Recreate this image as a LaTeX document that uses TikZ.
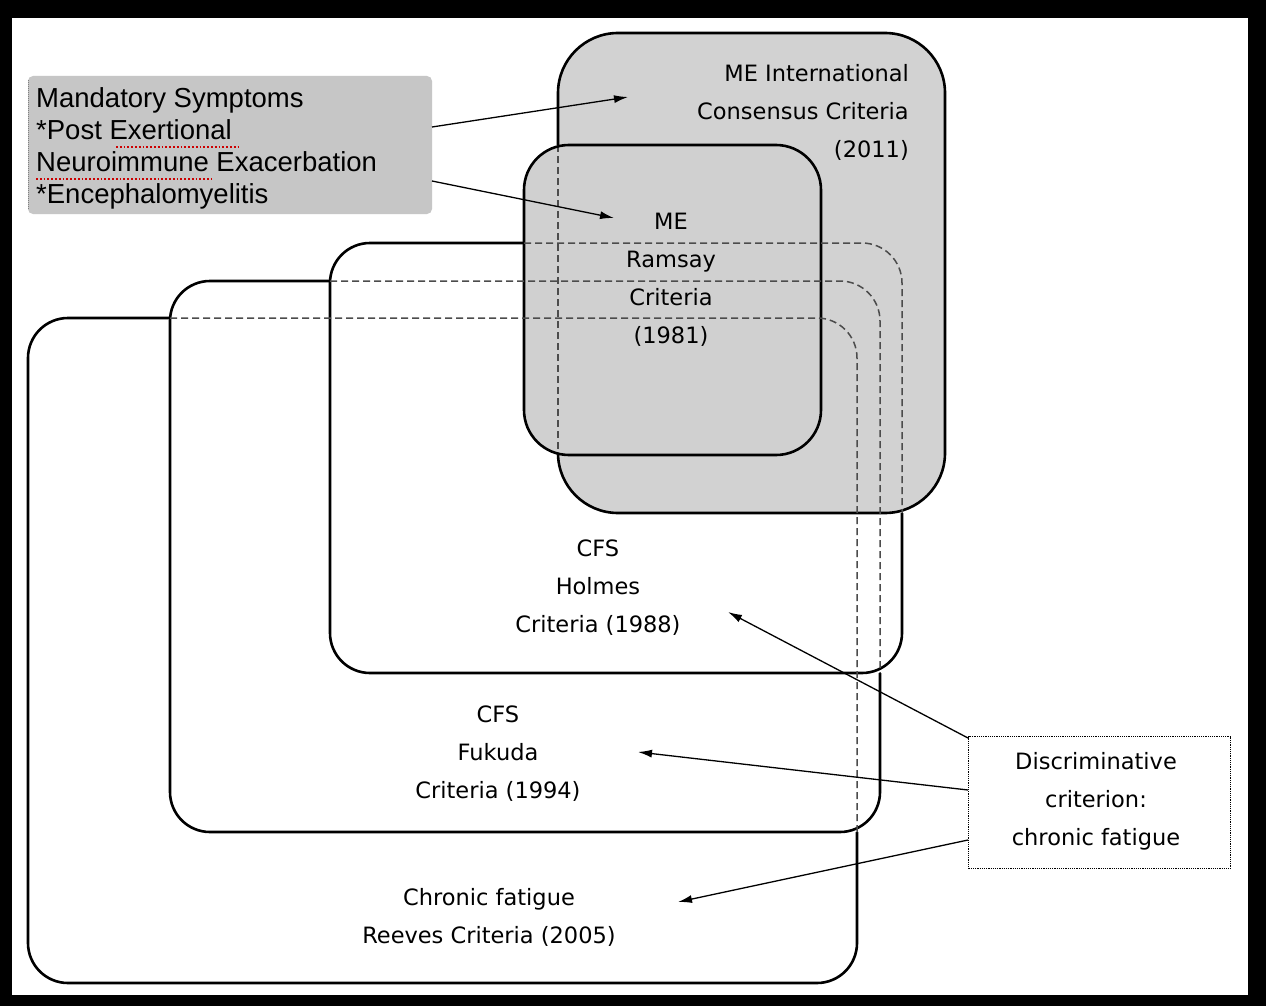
\documentclass[tikz,border=0pt]{standalone}
\usepackage{fontspec}
\setmainfont{DejaVu Sans}
\newfontfamily\arialf{Liberation Sans}
\usetikzlibrary{arrows.meta}
\begin{document}
\begin{tikzpicture}[x=1pt,y=-1pt,
  box/.style={line width=2.6pt,rounded corners=40},
  dsh/.style={line width=1.5pt,dash pattern=on 7pt off 4pt,rounded corners=40,black!70},
  lbl/.style={font=\fontsize{22.5}{38}\selectfont,align=center,inner sep=0},
  arr/.style={-{Latex[length=14pt,width=8pt]},line width=1.3pt}]
\fill[black] (0,0) rectangle (1266,1006);
\fill[white] (12,18) rectangle (1248,995);
% fills
\fill[gray!35,rounded corners=60] (558,33) rectangle (945,513);
\fill[gray!37,rounded corners=45] (524,145) rectangle (821,455);
% ICC outline
\draw[box,rounded corners=60] (558,145) -- (558,33) -- (945,33) -- (945,513) -- (558,513) -- (558,455);
\draw[dsh] (558,145) -- (558,455);
% Ramsay
\draw[box,rounded corners=45] (524,145) rectangle (821,455);
% Holmes
\draw[box] (524,243) -- (330,243) -- (330,673) -- (902,673) -- (902,513);
\draw[dsh] (524,243) -- (902,243) -- (902,513);
% Fukuda
\draw[box] (330,281) -- (170,281) -- (170,832) -- (880,832) -- (880,673);
\draw[dsh] (330,281) -- (880,281) -- (880,673);
% Reeves
\draw[box] (170,318) -- (28,318) -- (28,983) -- (857,983) -- (857,832);
\draw[dsh] (170,318) -- (857,318) -- (857,832);
% labels
\node[lbl,anchor=north east,align=right] (icc) at (909,64) {ME International\\Consensus Criteria\\(2011)};
\node[lbl,anchor=north] (ram) at (671,213) {ME\\Ramsay\\Criteria\\(1981)};
\node[lbl,anchor=north] (hol) at (598,540) {CFS\\Holmes\\Criteria (1988)};
\node[lbl,anchor=north] (fuk) at (498,706) {CFS\\Fukuda\\Criteria (1994)};
\node[lbl,anchor=north] (ree) at (489,888) {Chronic fatigue\\Reeves Criteria (2005)};
% mandatory box
\fill[gray!45,rounded corners=5] (28,76) rectangle (432,214);
\draw[densely dotted,gray,line width=1pt] (28,80) -- (28,210);
\node[anchor=north west,align=left,inner sep=0,font=\arialf\fontsize{27.5}{32}\selectfont] (mand) at (36,87) {Mandatory Symptoms\\*Post Exertional\\Neuroimmune Exacerbation\\*Encephalomyelitis};
\draw[red!80!black,line width=1.8pt,dotted] (116,147) -- (238,147);
\draw[red!80!black,line width=1.8pt,dotted] (36,179) -- (212,179);
\coordinate (m1) at (432,127);
\coordinate (m2) at (432,181);
\coordinate (t1) at (628,97);
\coordinate (t2) at (614,218);
\draw[arr] (m1) -- (t1);
\draw[arr] (m2) -- (t2);
% discriminative box
\node[draw,densely dotted,line width=1.2pt,minimum width=262pt,minimum height=132pt,anchor=north west,inner sep=0] (disc) at (968,736) {};
\node[lbl] at (1096,801) {Discriminative\\criterion:\\chronic fatigue};
\coordinate (d1) at (968,738);
\coordinate (d2) at (968,790);
\coordinate (d3) at (968,840);
\coordinate (h1) at (728,612);
\coordinate (f1) at (638,752);
\coordinate (r1) at (678,902);
\draw[arr] (d1) -- (h1);
\draw[arr] (d2) -- (f1);
\draw[arr] (d3) -- (r1);
\end{tikzpicture}
\end{document}
